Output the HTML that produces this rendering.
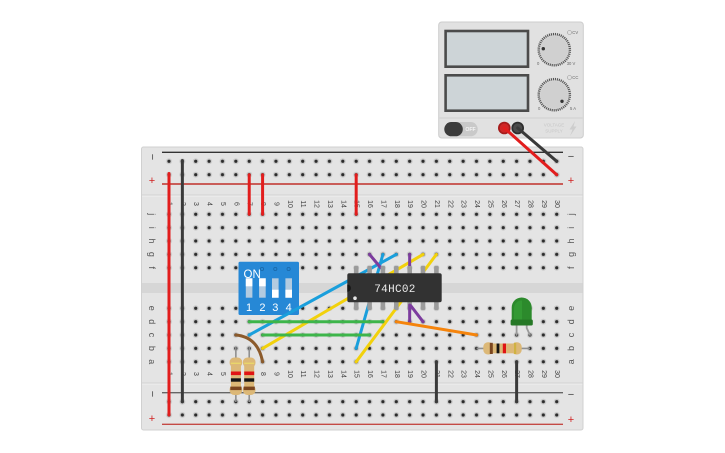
<!DOCTYPE html>
<html><head><meta charset="utf-8"><style>
html,body{margin:0;padding:0;background:#fff;width:725px;height:453px;overflow:hidden}
svg{display:block}
text{font-family:"Liberation Sans",sans-serif}
</style></head><body>
<svg width="725" height="453" viewBox="0 0 725 453" xmlns="http://www.w3.org/2000/svg">
<defs>
<pattern id="hp" patternUnits="userSpaceOnUse" x="162.315" y="0" width="13.37" height="13.37">
<circle cx="6.685" cy="6.685" r="3" fill="#cbcbcb"/>
<circle cx="6.685" cy="6.685" r="1.6" fill="#2b2b2b"/>
</pattern>
</defs>

<!-- breadboard -->
<rect x="141.5" y="147" width="441.5" height="283" rx="2" fill="#e4e4e4" stroke="#d0d0d0"/>
<rect x="142" y="283" width="440.5" height="10" fill="#d6d6d6"/>
<line x1="142" y1="195" x2="582.5" y2="195" stroke="#d2d2d2"/>
<line x1="142" y1="196" x2="582.5" y2="196" stroke="#efefef"/>
<line x1="142" y1="383" x2="582.5" y2="383" stroke="#d2d2d2"/>
<line x1="142" y1="384" x2="582.5" y2="384" stroke="#efefef"/>

<!-- holes -->
<g>
<rect x="162.3" y="0" width="401.2" height="13.37" fill="url(#hp)" transform="translate(0,154.6)"/>
<rect x="162.3" y="0" width="401.2" height="13.37" fill="url(#hp)" transform="translate(0,168.0)"/>
<rect x="162.3" y="0" width="401.2" height="13.37" fill="url(#hp)" transform="translate(0,207.6)"/>
<rect x="162.3" y="0" width="401.2" height="13.37" fill="url(#hp)" transform="translate(0,221.0)"/>
<rect x="162.3" y="0" width="401.2" height="13.37" fill="url(#hp)" transform="translate(0,234.3)"/>
<rect x="162.3" y="0" width="401.2" height="13.37" fill="url(#hp)" transform="translate(0,247.7)"/>
<rect x="162.3" y="0" width="401.2" height="13.37" fill="url(#hp)" transform="translate(0,261.1)"/>
<rect x="162.3" y="0" width="401.2" height="13.37" fill="url(#hp)" transform="translate(0,301.6)"/>
<rect x="162.3" y="0" width="401.2" height="13.37" fill="url(#hp)" transform="translate(0,315.0)"/>
<rect x="162.3" y="0" width="401.2" height="13.37" fill="url(#hp)" transform="translate(0,328.3)"/>
<rect x="162.3" y="0" width="401.2" height="13.37" fill="url(#hp)" transform="translate(0,341.7)"/>
<rect x="162.3" y="0" width="401.2" height="13.37" fill="url(#hp)" transform="translate(0,355.1)"/>
<rect x="162.3" y="0" width="401.2" height="13.37" fill="url(#hp)" transform="translate(0,395.0)"/>
<rect x="162.3" y="0" width="401.2" height="13.37" fill="url(#hp)" transform="translate(0,408.3)"/>
</g>

<!-- rail lines -->
<line x1="162" y1="152.3" x2="563" y2="152.3" stroke="#333" stroke-width="1.4"/>
<line x1="162" y1="184" x2="563" y2="184" stroke="#c0302a" stroke-width="1.4"/>
<line x1="162" y1="392.7" x2="563" y2="392.7" stroke="#666" stroke-width="1.4"/>
<line x1="162" y1="424.3" x2="563" y2="424.3" stroke="#c44a45" stroke-width="1.4"/>

<!-- rail labels -->
<g font-size="11">
<text x="152" y="157" text-anchor="middle" dominant-baseline="central" fill="#444" transform="rotate(90 152 157)">−</text>
<text x="152" y="181" text-anchor="middle" dominant-baseline="central" fill="#d02020">+</text>
<text x="571" y="157" text-anchor="middle" dominant-baseline="central" fill="#444">−</text>
<text x="571" y="181" text-anchor="middle" dominant-baseline="central" fill="#d02020">+</text>
<text x="152" y="394" text-anchor="middle" dominant-baseline="central" fill="#444" transform="rotate(90 152 394)">−</text>
<text x="152" y="419" text-anchor="middle" dominant-baseline="central" fill="#d02020">+</text>
<text x="571" y="395" text-anchor="middle" dominant-baseline="central" fill="#444">−</text>
<text x="571" y="420" text-anchor="middle" dominant-baseline="central" fill="#d02020">+</text>
</g>

<!-- row letters -->
<g font-size="9" fill="#555" text-anchor="middle" dominant-baseline="central">
<text transform="translate(152,214.3) rotate(90)">j</text>
<text transform="translate(152,227.7) rotate(90)">i</text>
<text transform="translate(152,241) rotate(90)">h</text>
<text transform="translate(152,254.4) rotate(90)">g</text>
<text transform="translate(152,267.8) rotate(90)">f</text>
<text transform="translate(152,308.3) rotate(90)">e</text>
<text transform="translate(152,321.7) rotate(90)">d</text>
<text transform="translate(152,335) rotate(90)">c</text>
<text transform="translate(152,348.4) rotate(90)">b</text>
<text transform="translate(152,361.8) rotate(90)">a</text>
<text transform="translate(571,214.3) rotate(-90)">j</text>
<text transform="translate(571,227.7) rotate(-90)">i</text>
<text transform="translate(571,241) rotate(-90)">h</text>
<text transform="translate(571,254.4) rotate(-90)">g</text>
<text transform="translate(571,267.8) rotate(-90)">f</text>
<text transform="translate(571,308.3) rotate(-90)">e</text>
<text transform="translate(571,321.7) rotate(-90)">d</text>
<text transform="translate(571,335) rotate(-90)">c</text>
<text transform="translate(571,348.4) rotate(-90)">b</text>
<text transform="translate(571,361.8) rotate(-90)">a</text>
</g>

<!-- column numbers -->
<g font-size="7" fill="#444" text-anchor="middle" dominant-baseline="central">
<text transform="translate(169,204) rotate(90)">1</text>
<text transform="translate(182.37,204) rotate(90)">2</text>
<text transform="translate(195.74,204) rotate(90)">3</text>
<text transform="translate(209.11,204) rotate(90)">4</text>
<text transform="translate(222.48,204) rotate(90)">5</text>
<text transform="translate(235.85,204) rotate(90)">6</text>
<text transform="translate(249.22,204) rotate(90)">7</text>
<text transform="translate(262.59,204) rotate(90)">8</text>
<text transform="translate(275.96,204) rotate(90)">9</text>
<text transform="translate(289.33,204) rotate(90)">10</text>
<text transform="translate(302.70,204) rotate(90)">11</text>
<text transform="translate(316.07,204) rotate(90)">12</text>
<text transform="translate(329.44,204) rotate(90)">13</text>
<text transform="translate(342.81,204) rotate(90)">14</text>
<text transform="translate(356.18,204) rotate(90)">15</text>
<text transform="translate(369.55,204) rotate(90)">16</text>
<text transform="translate(382.92,204) rotate(90)">17</text>
<text transform="translate(396.29,204) rotate(90)">18</text>
<text transform="translate(409.66,204) rotate(90)">19</text>
<text transform="translate(423.03,204) rotate(90)">20</text>
<text transform="translate(436.40,204) rotate(90)">21</text>
<text transform="translate(449.77,204) rotate(90)">22</text>
<text transform="translate(463.14,204) rotate(90)">23</text>
<text transform="translate(476.51,204) rotate(90)">24</text>
<text transform="translate(489.88,204) rotate(90)">25</text>
<text transform="translate(503.25,204) rotate(90)">26</text>
<text transform="translate(516.62,204) rotate(90)">27</text>
<text transform="translate(529.99,204) rotate(90)">28</text>
<text transform="translate(543.36,204) rotate(90)">29</text>
<text transform="translate(556.73,204) rotate(90)">30</text>
<text transform="translate(169,374) rotate(90)">1</text>
<text transform="translate(182.37,374) rotate(90)">2</text>
<text transform="translate(195.74,374) rotate(90)">3</text>
<text transform="translate(209.11,374) rotate(90)">4</text>
<text transform="translate(222.48,374) rotate(90)">5</text>
<text transform="translate(235.85,374) rotate(90)">6</text>
<text transform="translate(249.22,374) rotate(90)">7</text>
<text transform="translate(262.59,374) rotate(90)">8</text>
<text transform="translate(275.96,374) rotate(90)">9</text>
<text transform="translate(289.33,374) rotate(90)">10</text>
<text transform="translate(302.70,374) rotate(90)">11</text>
<text transform="translate(316.07,374) rotate(90)">12</text>
<text transform="translate(329.44,374) rotate(90)">13</text>
<text transform="translate(342.81,374) rotate(90)">14</text>
<text transform="translate(356.18,374) rotate(90)">15</text>
<text transform="translate(369.55,374) rotate(90)">16</text>
<text transform="translate(382.92,374) rotate(90)">17</text>
<text transform="translate(396.29,374) rotate(90)">18</text>
<text transform="translate(409.66,374) rotate(90)">19</text>
<text transform="translate(423.03,374) rotate(90)">20</text>
<text transform="translate(436.40,374) rotate(90)">21</text>
<text transform="translate(449.77,374) rotate(90)">22</text>
<text transform="translate(463.14,374) rotate(90)">23</text>
<text transform="translate(476.51,374) rotate(90)">24</text>
<text transform="translate(489.88,374) rotate(90)">25</text>
<text transform="translate(503.25,374) rotate(90)">26</text>
<text transform="translate(516.62,374) rotate(90)">27</text>
<text transform="translate(529.99,374) rotate(90)">28</text>
<text transform="translate(543.36,374) rotate(90)">29</text>
<text transform="translate(556.73,374) rotate(90)">30</text>
</g>

<!-- power supply -->
<rect x="438.7" y="22" width="144.6" height="116" rx="3" fill="#e1e1e1" stroke="#cdcdcd"/>
<line x1="439.5" y1="118" x2="582.5" y2="118" stroke="#cfcfcf"/>
<rect x="445.6" y="31" width="82.4" height="35.7" fill="#cdd4d7" stroke="#4b4b4b" stroke-width="2.6"/>
<rect x="445.6" y="75.3" width="82.4" height="35.4" fill="#cdd4d7" stroke="#4b4b4b" stroke-width="2.6"/>
<circle cx="554.3" cy="49.7" r="15.6" fill="#d3d3d3" stroke="#555" stroke-width="2.4" stroke-dasharray="1.1 0.9"/>
<circle cx="554.3" cy="49.7" r="13.4" fill="#d0d0d0"/>
<circle cx="543.3" cy="48.7" r="1.7" fill="#333"/>
<circle cx="554.3" cy="94.7" r="15.6" fill="#d3d3d3" stroke="#555" stroke-width="2.4" stroke-dasharray="1.1 0.9"/>
<circle cx="554.3" cy="94.7" r="13.4" fill="#d0d0d0"/>
<circle cx="562" cy="101.3" r="1.7" fill="#333"/>
<g font-size="4.2" fill="#666">
<text x="537" y="65">0</text>
<text x="571" y="65" text-anchor="middle">30 V</text>
<text x="538" y="110">0</text>
<text x="573" y="110" text-anchor="middle">5 A</text>
<circle cx="569.5" cy="32.5" r="2" fill="none" stroke="#999" stroke-width="0.6"/>
<text x="572.3" y="34">CV</text>
<circle cx="569.5" cy="77.5" r="2" fill="none" stroke="#999" stroke-width="0.6"/>
<text x="572.3" y="79">CC</text>
</g>
<rect x="444.3" y="122" width="33.4" height="14.3" rx="7.1" fill="#c9c9c9"/>
<rect x="444.3" y="122" width="18.5" height="14.3" rx="7.1" fill="#3c3c3c"/>
<text x="470.5" y="131" font-size="5.2" font-weight="bold" fill="#f4f4f4" text-anchor="middle">OFF</text>
<text x="554" y="126.5" font-size="4.5" fill="#c6c6c6" text-anchor="middle">VOLTAGE</text>
<text x="554" y="132.5" font-size="4.5" fill="#c6c6c6" text-anchor="middle">SUPPLY</text>
<polygon points="575,121 569.5,129.5 572.5,129.5 570,136 576.5,126.5 573.5,126.5" fill="#cdcdcd"/>
<circle cx="504.3" cy="128" r="6.3" fill="#a51b1b"/>
<circle cx="504.3" cy="128" r="4.6" fill="#cf2626"/>
<circle cx="517.7" cy="128" r="6.3" fill="#2d2d2d"/>
<circle cx="517.7" cy="128" r="4.6" fill="#4a4a4a"/>

<!-- DIP switch -->
<rect x="238.5" y="261.7" width="60.5" height="53.3" rx="1.5" fill="#2688d6"/>
<text x="243.5" y="277.8" font-size="11.5" fill="#fff">ON</text>
<g fill="none" stroke="#1a68a8" stroke-width="0.8">
<circle cx="262" cy="269" r="1.6"/>
<circle cx="275.3" cy="269" r="1.6"/>
<circle cx="288.6" cy="269" r="1.6"/>
</g>
<g>
<rect x="245.8" y="278.3" width="6.6" height="19.4" fill="#b3cbe0"/>
<rect x="245.8" y="278.3" width="6.6" height="8" fill="#fff"/>
<rect x="259.1" y="278.3" width="6.6" height="19.4" fill="#b3cbe0"/>
<rect x="259.1" y="278.3" width="6.6" height="8" fill="#fff"/>
<rect x="272.0" y="278.3" width="6.6" height="19.4" fill="#b3cbe0"/>
<rect x="272.0" y="289.7" width="6.6" height="8" fill="#fff"/>
<rect x="285.4" y="278.3" width="6.6" height="19.4" fill="#b3cbe0"/>
<rect x="285.4" y="289.7" width="6.6" height="8" fill="#fff"/>
</g>
<g font-size="11" fill="#fff" text-anchor="middle">
<text x="249.1" y="311">1</text>
<text x="262.4" y="311">2</text>
<text x="275.3" y="311">3</text>
<text x="288.7" y="311">4</text>
</g>

<!-- wires under chip -->
<g stroke-width="3" stroke-linecap="round" fill="none">
<line x1="249.22" y1="335" x2="396.29" y2="254.4" stroke="#1a9fdc"/>
<line x1="382.92" y1="254.4" x2="356.18" y2="348.4" stroke="#1a9fdc"/>
<line x1="262.59" y1="348.4" x2="423.03" y2="254.4" stroke="#f2d10c"/>
<line x1="356.18" y1="361.8" x2="436.40" y2="254.4" stroke="#f2d10c"/>
<line x1="369.55" y1="254.4" x2="380.5" y2="267.5" stroke="#7c3c9e"/>
<line x1="409.66" y1="254.4" x2="409.66" y2="268" stroke="#7c3c9e"/>
</g>

<!-- chip -->
<g fill="#9b9b9b">
<rect x="353.9" y="266" width="4.6" height="9" rx="1.2"/>
<rect x="367.3" y="266" width="4.6" height="9" rx="1.2"/>
<rect x="380.6" y="266" width="4.6" height="9" rx="1.2"/>
<rect x="394.0" y="266" width="4.6" height="9" rx="1.2"/>
<rect x="407.4" y="266" width="4.6" height="9" rx="1.2"/>
<rect x="420.7" y="266" width="4.6" height="9" rx="1.2"/>
<rect x="434.1" y="266" width="4.6" height="9" rx="1.2"/>
<rect x="353.9" y="300.5" width="4.6" height="9.5" rx="1.2"/>
<rect x="367.3" y="300.5" width="4.6" height="9.5" rx="1.2"/>
<rect x="380.6" y="300.5" width="4.6" height="9.5" rx="1.2"/>
<rect x="394.0" y="300.5" width="4.6" height="9.5" rx="1.2"/>
<rect x="407.4" y="300.5" width="4.6" height="9.5" rx="1.2"/>
<rect x="420.7" y="300.5" width="4.6" height="9.5" rx="1.2"/>
<rect x="434.1" y="300.5" width="4.6" height="9.5" rx="1.2"/>
</g>
<rect x="347.3" y="273.3" width="94.4" height="29" rx="2" fill="#323232"/>
<path d="M347.3,284.6 A3.6,3.6 0 0 1 347.3,291.8 Z" fill="#161616"/>
<circle cx="355" cy="298.2" r="1.8" fill="#e6e6e6"/>
<text x="395" y="292" text-anchor="middle" fill="#ececec" style="font-family:'Liberation Mono',monospace;font-size:11px;font-weight:normal;letter-spacing:0.3px">74HC02</text>

<!-- wires over -->
<g stroke-width="3" stroke-linecap="round" fill="none">
<line x1="409.66" y1="305" x2="409.66" y2="321.7" stroke="#7c3c9e"/>
<line x1="411" y1="306" x2="423.03" y2="321.7" stroke="#7c3c9e"/>
<line x1="249.22" y1="321.7" x2="382.92" y2="321.7" stroke="#3db54a"/>
<line x1="262.59" y1="335" x2="369.55" y2="335" stroke="#3db54a"/>
<line x1="396.29" y1="321.7" x2="476.51" y2="335" stroke="#f5840c"/>
<path d="M235.85,335 Q258,337 262.59,361.8" stroke="#8b5a2b"/>
<line x1="169" y1="173.5" x2="169" y2="415" stroke="#e21d1d"/>
<line x1="182.37" y1="160.5" x2="182.37" y2="401.7" stroke="#3a3a3a"/>
<line x1="249.22" y1="174.7" x2="249.22" y2="214.3" stroke="#e21d1d"/>
<line x1="262.59" y1="174.7" x2="262.59" y2="214.3" stroke="#e21d1d"/>
<line x1="356.18" y1="174.7" x2="356.18" y2="214.3" stroke="#e21d1d"/>
<line x1="436.40" y1="361.8" x2="436.40" y2="401.7" stroke="#3a3a3a"/>
<line x1="516.62" y1="361.8" x2="516.62" y2="401.7" stroke="#3a3a3a"/>
<line x1="504.3" y1="128" x2="556.73" y2="174.7" stroke="#e21d1d"/>
<line x1="517.7" y1="128" x2="556.73" y2="161.3" stroke="#3a3a3a"/>
</g>

<!-- vertical resistors -->
<g>
<line x1="235.85" y1="347" x2="235.85" y2="402" stroke="#8f8f8f" stroke-width="1.6"/>
<line x1="249.22" y1="347" x2="249.22" y2="402" stroke="#8f8f8f" stroke-width="1.6"/>
<g fill="#dcb877">
<rect x="229.6" y="357.5" width="12.6" height="10" rx="4.5"/>
<rect x="230.9" y="362" width="10" height="28"/>
<rect x="229.6" y="385" width="12.6" height="10" rx="4.5"/>
<rect x="242.9" y="357.5" width="12.6" height="10" rx="4.5"/>
<rect x="244.2" y="362" width="10" height="28"/>
<rect x="242.9" y="385" width="12.6" height="10" rx="4.5"/>
</g>
<rect x="230.9" y="362.6" width="10" height="1.4" fill="#e9d66a"/>
<rect x="244.2" y="362.6" width="10" height="1.4" fill="#e9d66a"/>
<rect x="230.9" y="371.5" width="10" height="3.6" fill="#e01414"/>
<rect x="244.2" y="371.5" width="10" height="3.6" fill="#e01414"/>
<rect x="230.9" y="378.3" width="10" height="3.4" fill="#141414"/>
<rect x="244.2" y="378.3" width="10" height="3.4" fill="#141414"/>
<rect x="230.3" y="386.6" width="11.2" height="3.5" fill="#7a4620"/>
<rect x="243.6" y="386.6" width="11.2" height="3.5" fill="#7a4620"/>
</g>

<!-- horizontal resistor -->
<g>
<line x1="476.5" y1="348.4" x2="530" y2="348.4" stroke="#8f8f8f" stroke-width="1.6"/>
<g fill="#dcb877">
<rect x="483.3" y="342.3" width="10" height="12.2" rx="4.5"/>
<rect x="488" y="343.5" width="28" height="9.8"/>
<rect x="511.7" y="342.3" width="10" height="12.2" rx="4.5"/>
</g>
<rect x="489.8" y="342.8" width="3" height="11.2" fill="#7a4620"/>
<rect x="496.6" y="343.5" width="2.8" height="9.8" fill="#141414"/>
<rect x="502.8" y="343.5" width="3.2" height="9.8" fill="#e01414"/>
<rect x="514" y="342.8" width="2.2" height="11.2" fill="#cfb241"/>
</g>

<!-- LED -->
<g>
<line x1="516.6" y1="325" x2="516.6" y2="335" stroke="#9a9a9a" stroke-width="1.8" stroke-linecap="round"/>
<polyline points="526.7,325 526.7,328 530,335" fill="none" stroke="#9a9a9a" stroke-width="1.8" stroke-linecap="round"/>
<path d="M511.7,322 L511.7,307.5 A10,10 0 0 1 531.7,307.5 L531.7,322 Z" fill="#2c8a2c"/>
<path d="M514,320 L514,308 A7.5,8 0 0 1 522,300.5 L522,320 Z" fill="#36a036" opacity="0.7"/>
<rect x="510.6" y="319.5" width="22.2" height="6" rx="1.5" fill="#267826"/>
</g>
</svg>
</body></html>
